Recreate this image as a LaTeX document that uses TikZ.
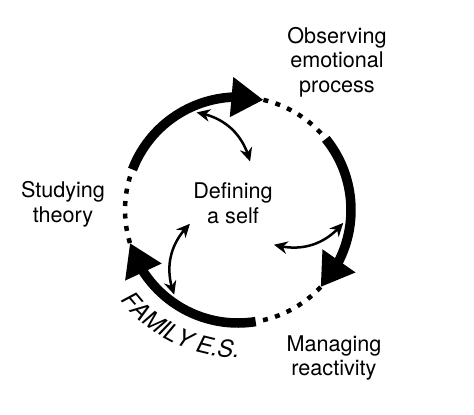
\documentclass[tikz,border=0pt]{standalone}
\usepackage{fontspec}
\setmainfont{TeX Gyre Heros}
\usetikzlibrary{arrows.meta,bending,decorations.text}

\begin{document}
\begin{tikzpicture}[x=0.02cm,y=0.02cm,
		thickarc/.style={line width=0.19cm,-{Triangle[length=0.64cm,width=0.76cm]}},
		dotarc/.style={line width=0.09cm,dash pattern=on 0.1cm off 0.15cm},
		linkarrow/.style={line width=0.05cm,{Stealth[length=0.27cm,width=0.25cm]}-{Stealth[length=0.27cm,width=0.25cm]}},
		stagetext/.style={align=center,font=\fontsize{12.3}{14}\selectfont}]
			\useasboundingbox (-238,-205) rectangle (236,210);
			% three stages, turned by 120 degrees each
			\foreach \r/\i in {0/1,-120/2,-240/3}{
				\draw[thickarc] ({159+\r}:113) arc[start angle={159+\r}, end angle={77+\r}, radius=113];
				\draw[dotarc] ({77+\r}:113) arc[start angle={77+\r}, end angle={39+\r}, radius=113];
				\coordinate (out\i) at ({113+\r}:106);
				\coordinate (in\i) at ({76+\r}:50);
				\draw[linkarrow] (out\i) to[bend left=33] (in\i);
			}
			\node[stagetext] (observe) at (99,148) {Observing\\emotional\\process};
			\node[stagetext] (study) at (-175,5.5) {Studying\\theory};
			\node[stagetext] (manage) at (96,-148) {Managing\\reactivity};
			\node[stagetext] (define) at (-5,7) {Defining\\a self};
			\path[decorate,decoration={text along path,text align=center,
				text={|\itshape\fontsize{13.5}{15}\selectfont|FAMILY E.S.}}]
				(-156:148) arc[start angle=-156, end angle=-76, radius=148];
		\end{tikzpicture}
\end{document}
